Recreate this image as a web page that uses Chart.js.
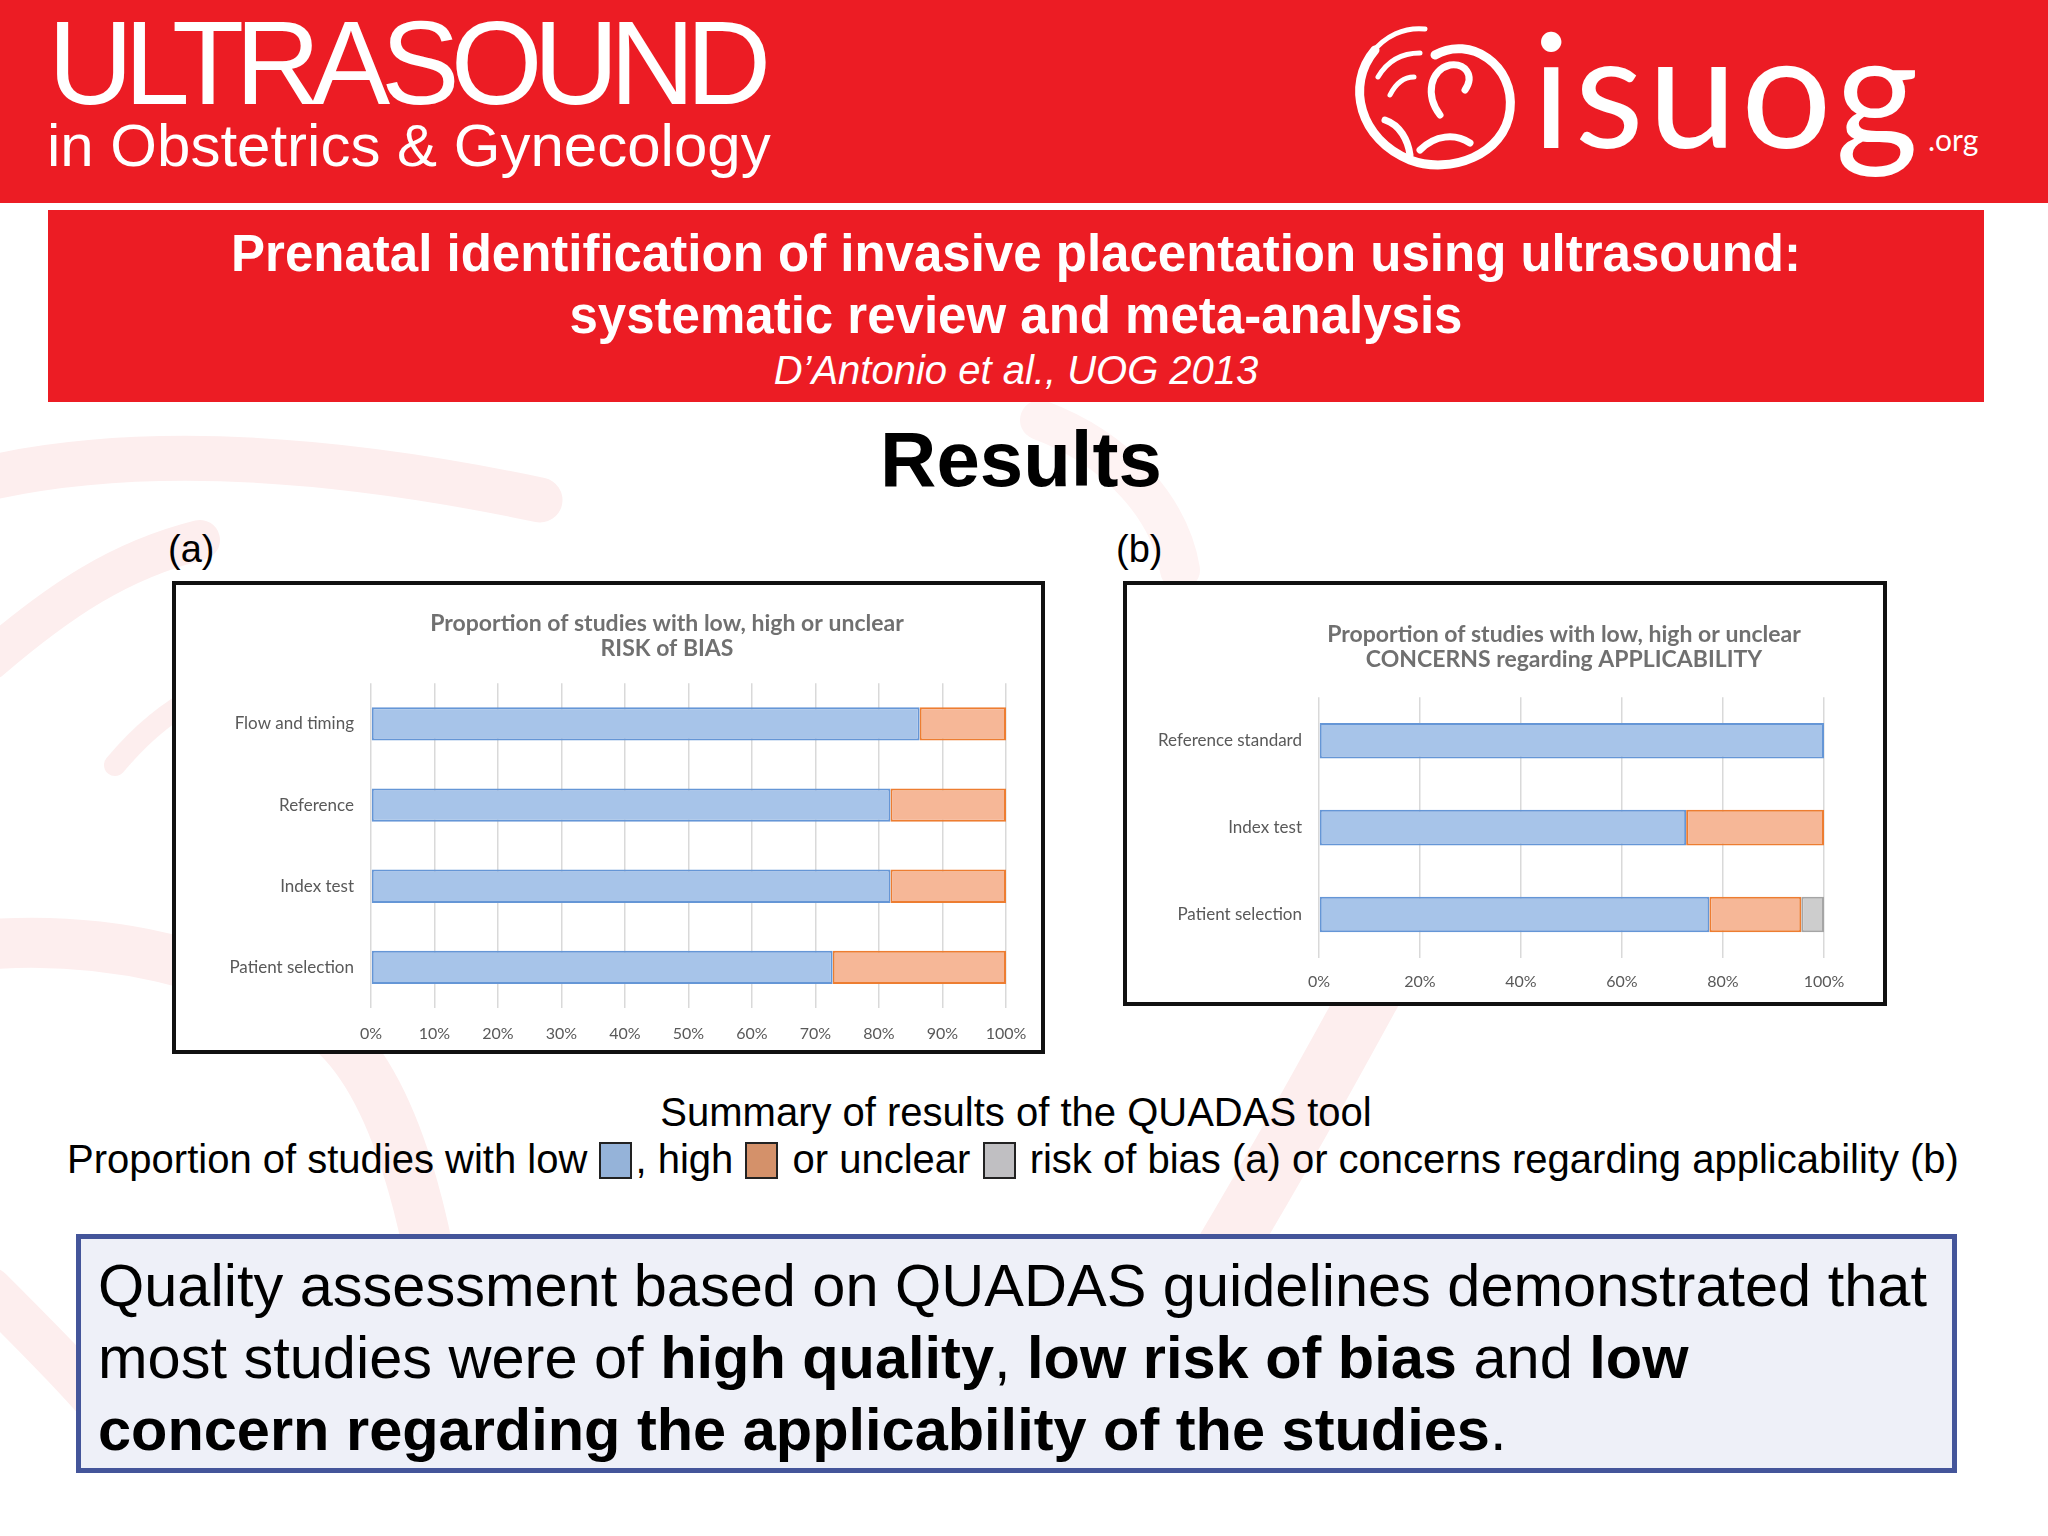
<!DOCTYPE html>
<html>
<head>
<meta charset="utf-8">
<script src="https://cdn.jsdelivr.net/npm/chart.js@4.4.1/dist/chart.umd.min.js"></script>
<style>
  html, body { margin: 0; padding: 0; }
  body {
    width: 2048px; height: 1536px; position: relative; overflow: hidden;
    background: #fff; font-family: 'Liberation Sans', Arial, sans-serif;
  }
  .abs { position: absolute; white-space: nowrap; line-height: 1; }
  .banner { position: absolute; left: 0; top: 0; width: 2048px; height: 203px; background: #ec1c24; }
  .titlebox { position: absolute; left: 48px; top: 210px; width: 1936px; height: 192px; background: #ec1c24; }
  .white { color: #fff; }
  .center { text-align: center; }
  .frame { position: absolute; border: 4px solid #111; background: #fff; box-sizing: border-box; }
  canvas { position: absolute; }
  .sw { display: inline-block; width: 29px; height: 33px; border: 2px solid #222; vertical-align: -6px; margin: 0 3px 0 1px; }
  .note {
    position: absolute; left: 76px; top: 1234px; width: 1881px; height: 239px;
    border: 5px solid #44559a; background: #eef0f8; box-sizing: border-box;
  }
</style>
</head>
<body>
<svg class="abs" style="left:0;top:0" width="2048" height="1536">
  <g fill="none" stroke="#fdeeee" stroke-linecap="round">
    <path d="M -20 480 C 150 440, 350 460, 540 500" stroke-width="45"/>
    <path d="M -10 660 C 60 600, 120 560, 200 540" stroke-width="40"/>
    <path d="M 115 765 C 140 735, 170 710, 200 695" stroke-width="22"/>
    <path d="M -20 945 C 100 935, 230 960, 330 1030 C 400 1090, 440 1250, 450 1430" stroke-width="50"/>
    <path d="M -10 1290 C 40 1340, 90 1390, 130 1440" stroke-width="45"/>
    <path d="M 1040 420 C 1120 450, 1170 510, 1180 570" stroke-width="40" stroke="#fef3f3"/>
    <path d="M 1400 940 C 1340 1050, 1260 1200, 1110 1440" stroke-width="60"/>
  </g>
</svg>

<div class="banner"></div>
<div class="abs white" style="left:48px;top:4px;font-size:118px;letter-spacing:-9px;">ULTRASOUND</div>
<div class="abs white" style="left:47px;top:116px;font-size:60px;">in Obstetrics &amp; Gynecology</div>

<svg class="abs" style="left:1340px;top:15px" width="200" height="160">
  <g fill="none" stroke="#fff" stroke-linecap="round">
    <path d="M 95 40 C 130 20, 175 50, 170 95 C 165 140, 110 160, 70 145 C 20 125, 5 70, 35 35" stroke-width="9"/>
    <path d="M 30 40 C 45 20, 65 12, 85 14" stroke-width="5"/>
    <path d="M 38 62 C 48 45, 62 38, 80 38" stroke-width="5"/>
    <path d="M 50 80 C 56 68, 64 62, 74 62" stroke-width="5"/>
    <path d="M 100 100 C 85 80, 90 55, 110 50 C 125 48, 135 60, 125 75" stroke-width="7"/>
    <path d="M 45 105 C 60 110, 68 125, 70 140" stroke-width="7"/>
    <path d="M 80 135 C 95 120, 115 118, 130 128" stroke-width="7"/>
  </g>
</svg>
<div class="abs white" style="left:1532px;top:6px;font-family:Lato,sans-serif;font-size:160px;letter-spacing:4px;">isuog</div>
<div class="abs white" style="left:1928px;top:124px;font-family:Lato,sans-serif;font-size:30px;">.org</div>

<div class="titlebox"></div>
<div class="abs white center" style="left:48px;width:1936px;top:228px;font-size:51px;font-weight:bold;">Prenatal identification of invasive placentation using ultrasound:</div>
<div class="abs white center" style="left:48px;width:1936px;top:290px;font-size:51px;font-weight:bold;">systematic review and meta-analysis</div>
<div class="abs white center" style="left:48px;width:1936px;top:350px;font-size:40px;font-style:italic;">D’Antonio et al., UOG 2013</div>

<div class="abs center" style="left:0;width:2042px;top:420px;font-size:78px;font-weight:bold;color:#000;">Results</div>

<div class="abs" style="left:168px;top:530px;font-size:38px;">(a)</div>
<div class="abs" style="left:1116px;top:530px;font-size:38px;">(b)</div>

<div class="frame" style="left:172px;top:581px;width:873px;height:473px;"></div>
<div class="frame" style="left:1123px;top:581px;width:764px;height:425px;"></div>
<canvas id="chartA" width="982" height="465" style="left:176px;top:585px;"></canvas>
<canvas id="chartB" width="874" height="418" style="left:1127px;top:585px;"></canvas>

<div class="abs center" style="left:0;width:2032px;top:1092px;font-size:40px;">Summary of results of the QUADAS tool</div>
<div class="abs center" style="left:0;width:2026px;top:1139px;font-size:40px;">Proportion of studies with low <span class="sw" style="background:#95b3d9"></span>, high <span class="sw" style="background:#d4916a"></span> or unclear <span class="sw" style="background:#c0bfc2"></span> risk of bias (a) or concerns regarding applicability (b)</div>

<div class="note"></div>
<div class="abs" style="left:98px;top:1256px;font-size:59.5px;">Quality assessment based on QUADAS guidelines demonstrated that</div>
<div class="abs" style="left:98px;top:1328px;font-size:59.5px;">most studies were of <b>high quality</b>, <b>low risk of bias</b> and <b>low</b></div>
<div class="abs" style="left:98px;top:1400px;font-size:59.5px;"><b>concern regarding the applicability of the studies</b>.</div>

<script>
const categoriesA = ['Flow and timing', 'Reference', 'Index test', 'Patient selection'];
const lowA = [86.4, 81.8, 81.8, 72.7];
const highA = [13.6, 18.2, 18.2, 27.3];
const unclearA = [0, 0, 0, 0];
const titleA = ['Proportion of studies with low, high or unclear', 'RISK of BIAS'];

const categoriesB = ['Reference standard', 'Index test', 'Patient selection'];
const lowB = [100, 72.7, 77.3];
const highB = [0, 27.3, 18.2];
const unclearB = [0, 0, 4.5];
const titleB = ['Proportion of studies with low, high or unclear', 'CONCERNS regarding APPLICABILITY'];

const textGrey = '#595959';
const chartFont = 'Lato, "Open Sans", sans-serif';

const makeSets = (low, high, unclear) => [
  { label: 'Low', data: low, backgroundColor: '#a7c4e9', borderColor: '#6596d6' },
  { label: 'High', data: high, backgroundColor: '#f6b797', borderColor: '#ed7d31' },
  { label: 'Unclear', data: unclear, backgroundColor: '#cdcdcd', borderColor: '#a5a5a5' },
].map((d) => ({
  ...d,
  borderWidth: (c) => (c.raw > 0 ? 2 : 0),
  borderSkipped: false,
  barPercentage: 0.41,
  categoryPercentage: 1,
}));

// o.padRight: empty space right of the plot, kept by a blank axis so the title stays centred on the canvas
const makeChart = (id, labels, sets, title, o) => {
  new Chart(document.getElementById(id), {
    type: 'bar',
    data: { labels, datasets: sets },
    options: {
      indexAxis: 'y',
      responsive: false,
      animation: false,
      layout: { padding: 0 },
      plugins: {
        legend: { display: false },
        tooltip: { enabled: false },
        title: {
          display: true,
          text: title,
          color: '#707070',
          font: { family: chartFont, size: 23, weight: 'bold', lineHeight: 1.05 },
          padding: { top: o.titleTop, bottom: o.titleBottom },
        },
      },
      scales: {
        x: {
          stacked: true,
          min: 0,
          max: 100,
          ticks: {
            stepSize: o.step,
            padding: o.tickPad,
            color: textGrey,
            font: { family: chartFont, size: 16 },
            callback: (v) => v + '%',
          },
          grid: { color: '#d9d9d9', lineWidth: 1.5, drawTicks: false },
          border: { display: false },
          afterFit: (s) => { s.height = o.xHeight; },
        },
        y: {
          stacked: true,
          ticks: { padding: 17, color: textGrey, font: { family: chartFont, size: 17 } },
          grid: { display: false, drawTicks: false },
          border: { display: false },
          afterFit: (s) => { s.width = o.yWidth; },
        },
        yRight: {
          type: 'category',
          position: 'right',
          ticks: { display: false },
          grid: { display: false, drawTicks: false },
          border: { display: false },
          afterFit: (s) => { s.width = o.padRight; },
        },
      },
    },
  });
};

makeChart('chartA', categoriesA, makeSets(lowA, highA, unclearA), titleA,
  { padRight: 152, titleTop: 27, titleBottom: 23, step: 10, tickPad: 16, xHeight: 42, yWidth: 195 });
makeChart('chartB', categoriesB, makeSets(lowB, highB, unclearB), titleB,
  { padRight: 177, titleTop: 38, titleBottom: 26, step: 20, tickPad: 14, xHeight: 45, yWidth: 192 });
</script>
</body>
</html>
